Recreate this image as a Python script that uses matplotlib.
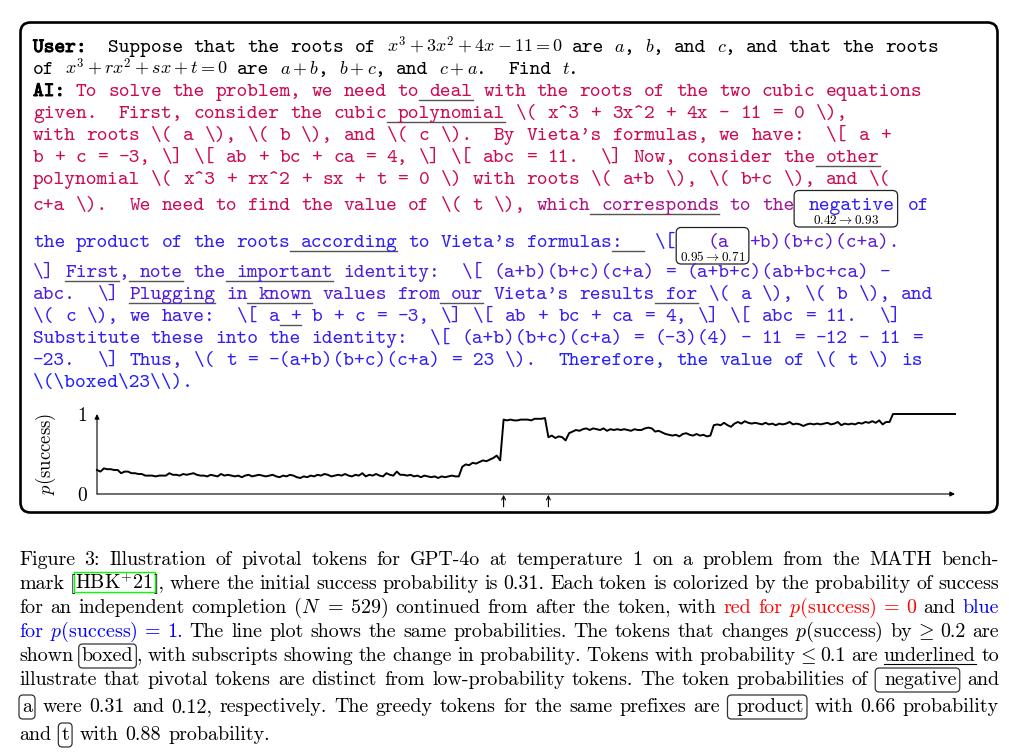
import re
import matplotlib
matplotlib.use("Agg")
import matplotlib.pyplot as plt
import matplotlib.patheffects as pe
from matplotlib.patches import FancyBboxPatch, Rectangle
from matplotlib.colors import LinearSegmentedColormap

plt.rcParams["mathtext.fontset"] = "cm"

# p(success) after each token of the answer
p_success = [
    0.30, 0.28, 0.32, 0.31, 0.31, 0.30, 0.30, 0.26, 0.28, 0.28,
    0.26, 0.26, 0.25, 0.25, 0.23, 0.23, 0.23, 0.22, 0.23, 0.23,
    0.23, 0.26, 0.24, 0.24, 0.23, 0.25, 0.24, 0.25, 0.26, 0.24,
    0.23, 0.23, 0.22, 0.24, 0.23, 0.22, 0.25, 0.23, 0.24, 0.23,
    0.22, 0.23, 0.21, 0.23, 0.24, 0.22, 0.23, 0.24, 0.23, 0.22,
    0.23, 0.24, 0.22, 0.21, 0.23, 0.22, 0.24, 0.23, 0.21, 0.20,
    0.22, 0.21, 0.23, 0.22, 0.24, 0.23, 0.25, 0.24, 0.22, 0.23,
    0.24, 0.23, 0.25, 0.23, 0.22, 0.24, 0.23, 0.26, 0.22, 0.24,
    0.23, 0.25, 0.23, 0.22, 0.26, 0.24, 0.23, 0.28, 0.24, 0.24,
    0.23, 0.24, 0.22, 0.23, 0.21, 0.23, 0.22, 0.21, 0.22, 0.20,
    0.22, 0.21, 0.22, 0.23, 0.22, 0.22,
    0.34, 0.37, 0.36, 0.39, 0.38, 0.40, 0.42, 0.41, 0.43, 0.45, 0.48, 0.42,
    0.93, 0.92, 0.93, 0.92, 0.92, 0.93, 0.93, 0.93, 0.92, 0.94, 0.94, 0.94, 0.95,
    0.71, 0.73, 0.70, 0.72, 0.71, 0.67,
    0.76, 0.78, 0.80, 0.79, 0.81, 0.82, 0.80, 0.82, 0.81, 0.80,
    0.82, 0.79, 0.81, 0.80, 0.81, 0.80, 0.81, 0.80, 0.79, 0.81,
    0.80, 0.80, 0.82, 0.83, 0.82, 0.78, 0.79, 0.77,
    0.75, 0.74, 0.73, 0.74, 0.72, 0.75, 0.76, 0.74, 0.73, 0.75, 0.73, 0.74, 0.72, 0.73,
    0.86, 0.87, 0.86, 0.89, 0.86, 0.84, 0.88, 0.90, 0.88, 0.91,
    0.89, 0.88, 0.89, 0.88, 0.87, 0.89, 0.87, 0.88, 0.86, 0.88,
    0.87, 0.88, 0.90, 0.87, 0.88, 0.87, 0.85, 0.87, 0.88, 0.87,
    0.88, 0.87, 0.88, 0.89, 0.87, 0.88, 0.90, 0.86, 0.88, 0.87,
    0.88, 0.87, 0.89, 0.88, 0.90, 0.89, 0.91, 0.89, 0.92, 0.87,
    0.90, 0.90,
    1.00, 1.00, 1.00, 1.00, 1.00, 1.00, 1.00, 1.00, 1.00, 1.00,
    1.00, 1.00, 1.00, 1.00, 1.00, 1.00, 1.00, 1.00, 1.00,
]
pivot_idx = [118, 131]   # " negative" and " (a"

# prompt / answer text, one list of spans per line
# ("b", text) bold, ("m", tex) math, ("t", text, p, underline), ("x", text, p, subscript) boxed
lines = [
    [("b", "User:"), ("t", "  Suppose that the roots of ", None, False), ("m", "x^3+3x^2+4x-11=0"),
     ("t", " are ", None, False), ("m", "a"), ("t", ", ", None, False), ("m", "b"),
     ("t", ", and ", None, False), ("m", "c"), ("t", ", and that the roots", None, False)],
    [("t", "of ", None, False), ("m", "x^3+rx^2+sx+t=0"), ("t", " are ", None, False), ("m", "a+b"),
     ("t", ", ", None, False), ("m", "b+c"), ("t", ", and ", None, False), ("m", "c+a"),
     ("t", ".  Find ", None, False), ("m", "t"), ("t", ".", None, False)],
    [("b", "AI:"), ("t", " To solve the problem, we need to", 0.24, False), ("t", " deal", 0.24, True),
     ("t", " with the roots of the two cubic equations", 0.24, False)],
    [("t", "given.  First, consider the cubic", 0.24, False), ("t", " polynomial", 0.24, True),
     ("t", " \\( x^3 + 3x^2 + 4x - 11 = 0 \\),", 0.24, False)],
    [("t", "with roots \\( a \\), \\( b \\), and \\( c \\).  By Vieta's formulas, we have:  \\[ a +", 0.24, False)],
    [("t", "b + c = -3, \\] \\[ ab + bc + ca = 4, \\] \\[ abc = 11.  \\] Now, consider the", 0.24, False),
     ("t", " other", 0.24, True)],
    [("t", "polynomial \\( x^3 + rx^2 + sx + t = 0 \\) with roots \\( a+b \\), \\( b+c \\), and \\(", 0.24, False)],
    [("t", "c+a \\).  We need to find the value of \\( t \\),", 0.26, False), ("t", " which", 0.36, False),
     ("t", " corresponds", 0.40, True), ("t", " to the", 0.42, False),
     ("x", " negative", 0.93, r"0.42 \rightarrow 0.93"), ("t", " of", 0.93, False)],
    [("t", "the product of the roots", 0.93, False), ("t", " according", 0.93, True),
     ("t", " to Vieta's formulas", 0.93, False), ("t", ":  ", 0.93, True), ("t", " \\[", 0.95, False),
     ("x", " (a", 0.71, r"0.95 \rightarrow 0.71"), ("t", "+b)(b+c)(c+a).", 0.72, False)],
    [("t", "\\] ", 0.78, False), ("t", "First", 0.80, True), ("t", ",", 0.80, False), ("t", " note", 0.80, True),
     ("t", " the", 0.80, False), ("t", " important", 0.80, True),
     ("t", " identity:  \\[ (a+b)(b+c)(c+a) = (a+b+c)(ab+bc+ca) -", 0.80, False)],
    [("t", "abc.  \\] ", 0.78, False), ("t", "Plugging", 0.78, True), ("t", " in", 0.78, False),
     ("t", " known", 0.78, True), ("t", " values from", 0.78, False), ("t", " our", 0.80, True),
     ("t", " Vieta's results", 0.86, False), ("t", " for", 0.86, True),
     ("t", " \\( a \\), \\( b \\), and", 0.88, False)],
    [("t", "\\( c \\), we have:  \\[ a", 0.88, False), ("t", " +", 0.88, True),
     ("t", " b + c = -3, \\] \\[ ab + bc + ca = 4, \\] \\[ abc = 11.  \\]", 0.88, False)],
    [("t", "Substitute these into the identity:  \\[ (a+b)(b+c)(c+a) = (-3)(4) - 11 = -12 - 11 =", 0.90, False)],
    [("t", "-23.  \\] Thus, \\( t = -(a+b)(b+c)(c+a) = 23 \\).", 0.92, False),
     ("t", "  Therefore, the value of \\( t \\) is", 0.97, False)],
    [("t", "\\(\\boxed\\23\\\\).", 1.00, False)],
]
line_base = [52, 74, 96, 118, 140, 162, 184, 210, 247, 277, 299, 321, 343, 365, 387]

caption = [
    "Figure 3: Illustration of pivotal tokens for GPT-4o at temperature 1 on a problem from the MATH bench-",
    "mark [<c:\\mathrm{HBK}^{+}\\mathrm{21}>], where the initial success probability is 0.31. Each token is colorized by the probability of success",
    "for an independent completion (<m:N> = 529) continued from after the token, with r~red r~for r~<m:p(\\mathrm{success})> r~= r~0 and b~blue",
    "b~for b~<m:p(\\mathrm{success})> b~= b~1. The line plot shows the same probabilities. The tokens that changes <m:p(\\mathrm{success})> by <m:\\!\\!\\geq\\!\\!> 0.2 are",
    "shown <b:boxed>, with subscripts showing the change in probability. Tokens with probability <m:\\!\\!\\leq\\!\\!> 0.1 are <u:underlined> to",
    "illustrate that pivotal tokens are distinct from low-probability tokens. The token probabilities of <b:_negative> and",
    "<b:a> were 0.31 and 0.12, respectively. The greedy tokens for the same prefixes are <b:_product> with 0.66 probability",
    "and <b:t> with 0.88 probability.",
]
cap_base = [565, 589, 613, 637, 661, 685, 712, 740]

cmap = LinearSegmentedColormap.from_list("p_success", ["#ff0000", "#9018b0", "#2020ff"])

fig = plt.figure(figsize=(10.09, 7.54), dpi=100)
bg = fig.add_axes([0, 0, 1, 1])
bg.set_xlim(0, 1009)
bg.set_ylim(754, 0)
bg.axis("off")
renderer = fig.canvas.get_renderer()

CW = 10.72      # typewriter cell width (px)
X0 = 33
TT = dict(family="cmtt10", fontsize=14.7)


def width_of(t):
    return t.get_window_extent(renderer=renderer).width


def color_of(p):
    return "black" if p is None else cmap(p)


def put_tt(x, y, s, color, bold=False):
    # word by word on the character grid (cmtt10 draws a visible space glyph)
    for m in re.finditer(r"\S+", s):
        t = bg.text(x + m.start() * CW, y, m.group(), color=color, va="baseline", ha="left", **TT)
        if bold:
            t.set_path_effects([pe.withStroke(linewidth=0.7, foreground=color)])
    return x + len(s) * CW


# outer frame
bg.add_patch(FancyBboxPatch((20.5, 22.5), 977, 490, boxstyle="round,pad=0,rounding_size=10",
                            fc="none", ec="black", lw=1.9))

for y, spans in zip(line_base, lines):
    x = X0
    for sp in spans:
        if sp[0] == "b":
            x = put_tt(x, y, sp[1], "black", bold=True)
        elif sp[0] == "m":
            t = bg.text(x, y, "$" + sp[1] + "$", fontsize=13, va="baseline", ha="left")
            x += width_of(t) - 2
        elif sp[0] == "t":
            _, s, p, ul = sp
            x1 = put_tt(x, y, s, color_of(p))
            if ul:
                bg.plot([x, x1], [y + 3.5, y + 3.5], color="#555555", lw=1.0)
            x = x1
        else:
            _, s, p, sub = sp
            ts = bg.text(0, y + 14, "$" + sub + "$", fontsize=9.5, va="baseline", ha="center")
            wbox = max(len(s) * CW, width_of(ts)) + 7
            bg.add_patch(FancyBboxPatch((x, y - 19.5), wbox, 36.5, boxstyle="round,pad=0,rounding_size=5",
                                        fc="none", ec="#222222", lw=0.9))
            put_tt(x + (wbox - len(s) * CW) / 2, y, s, color_of(p))
            ts.set_x(x + wbox / 2)
            x += wbox

# line plot of p(success)
ax = fig.add_axes([97 / 1009, (754 - 494) / 754, 858 / 1009, 80 / 754])
ax.plot(range(len(p_success)), p_success, color="black", lw=1.4, clip_on=False)
ax.set_xlim(0, len(p_success) - 1)
ax.set_ylim(0, 1)
for s in ax.spines.values():
    s.set_visible(False)
ax.set_xticks([])
ax.set_yticks([0, 1])
ax.set_yticklabels(["0", "1"], family="cmr10", fontsize=14)
ax.tick_params(axis="y", length=0, pad=7)
ax.set_ylabel(r"$p(\mathrm{success})$", fontsize=13.5)
ax.yaxis.set_label_coords(-0.046, 0.5)
ax.annotate("", xy=(1, 0), xytext=(0, 0), xycoords="axes fraction",
            arrowprops=dict(arrowstyle="-|>", lw=0.8, color="black", mutation_scale=7, shrinkA=0, shrinkB=0))
ax.annotate("", xy=(0, 1), xytext=(0, 0), xycoords="axes fraction",
            arrowprops=dict(arrowstyle="-|>", lw=0.8, color="black", mutation_scale=7, shrinkA=0, shrinkB=0))
for i in pivot_idx:
    ax.annotate("", xy=(i, -0.01), xytext=(i, -0.16), annotation_clip=False,
                arrowprops=dict(arrowstyle="->", lw=0.8, color="black", mutation_scale=7, shrinkA=0, shrinkB=0))

# caption, justified
CAP_FS = 14.4
CAP_L, CAP_R = 19, 999
piece_re = re.compile(r"<(\w):([^>]*)>|([^<]+)")

for li, (y, line) in enumerate(zip(cap_base, caption)):
    words = []
    for w in line.split(" "):
        color = "black"
        if w.startswith("r~"):
            color, w = "#ff0000", w[2:]
        elif w.startswith("b~"):
            color, w = "#0000ff", w[2:]
        items = []
        for m in piece_re.finditer(w):
            if m.group(3):
                kind, s = "rm", m.group(3)
            else:
                kind, s = m.group(1), m.group(2)
            lead = 0
            if s.startswith("_"):
                s, lead = s[1:], 6
            if kind in ("m", "c"):
                t = bg.text(0, y, "$" + s + "$", fontsize=CAP_FS, color=color, va="baseline")
            else:
                t = bg.text(0, y, s, family="cmr10", fontsize=CAP_FS, color=color, va="baseline")
            pad = 3 if kind == "b" else 0
            items.append((t, width_of(t), kind, lead, pad))
        words.append(items)
    widths = [sum(wd + lead + 2 * pad for _, wd, _, lead, pad in it) for it in words]
    if li < len(caption) - 1:
        gap = (CAP_R - CAP_L - sum(widths)) / (len(words) - 1)
    else:
        gap = 0.36 * CAP_FS * 100 / 72
    x = CAP_L
    for it in words:
        for t, wd, kind, lead, pad in it:
            x0 = x
            x += pad + lead
            t.set_x(x)
            if kind == "b":
                bg.add_patch(FancyBboxPatch((x0, y - 17), wd + lead + 2 * pad, 24,
                                            boxstyle="round,pad=0,rounding_size=4",
                                            fc="none", ec="#333333", lw=0.9))
            elif kind == "c":
                bg.add_patch(Rectangle((x - 1.5, y - 17), wd + 3, 19.5, fc="none", ec=(0, 1, 0), lw=1.0))
            elif kind == "u":
                bg.plot([x, x + wd], [y + 2.5, y + 2.5], color="black", lw=0.8)
            x += wd + pad
        x += gap

fig.savefig("out.png", dpi=100)
